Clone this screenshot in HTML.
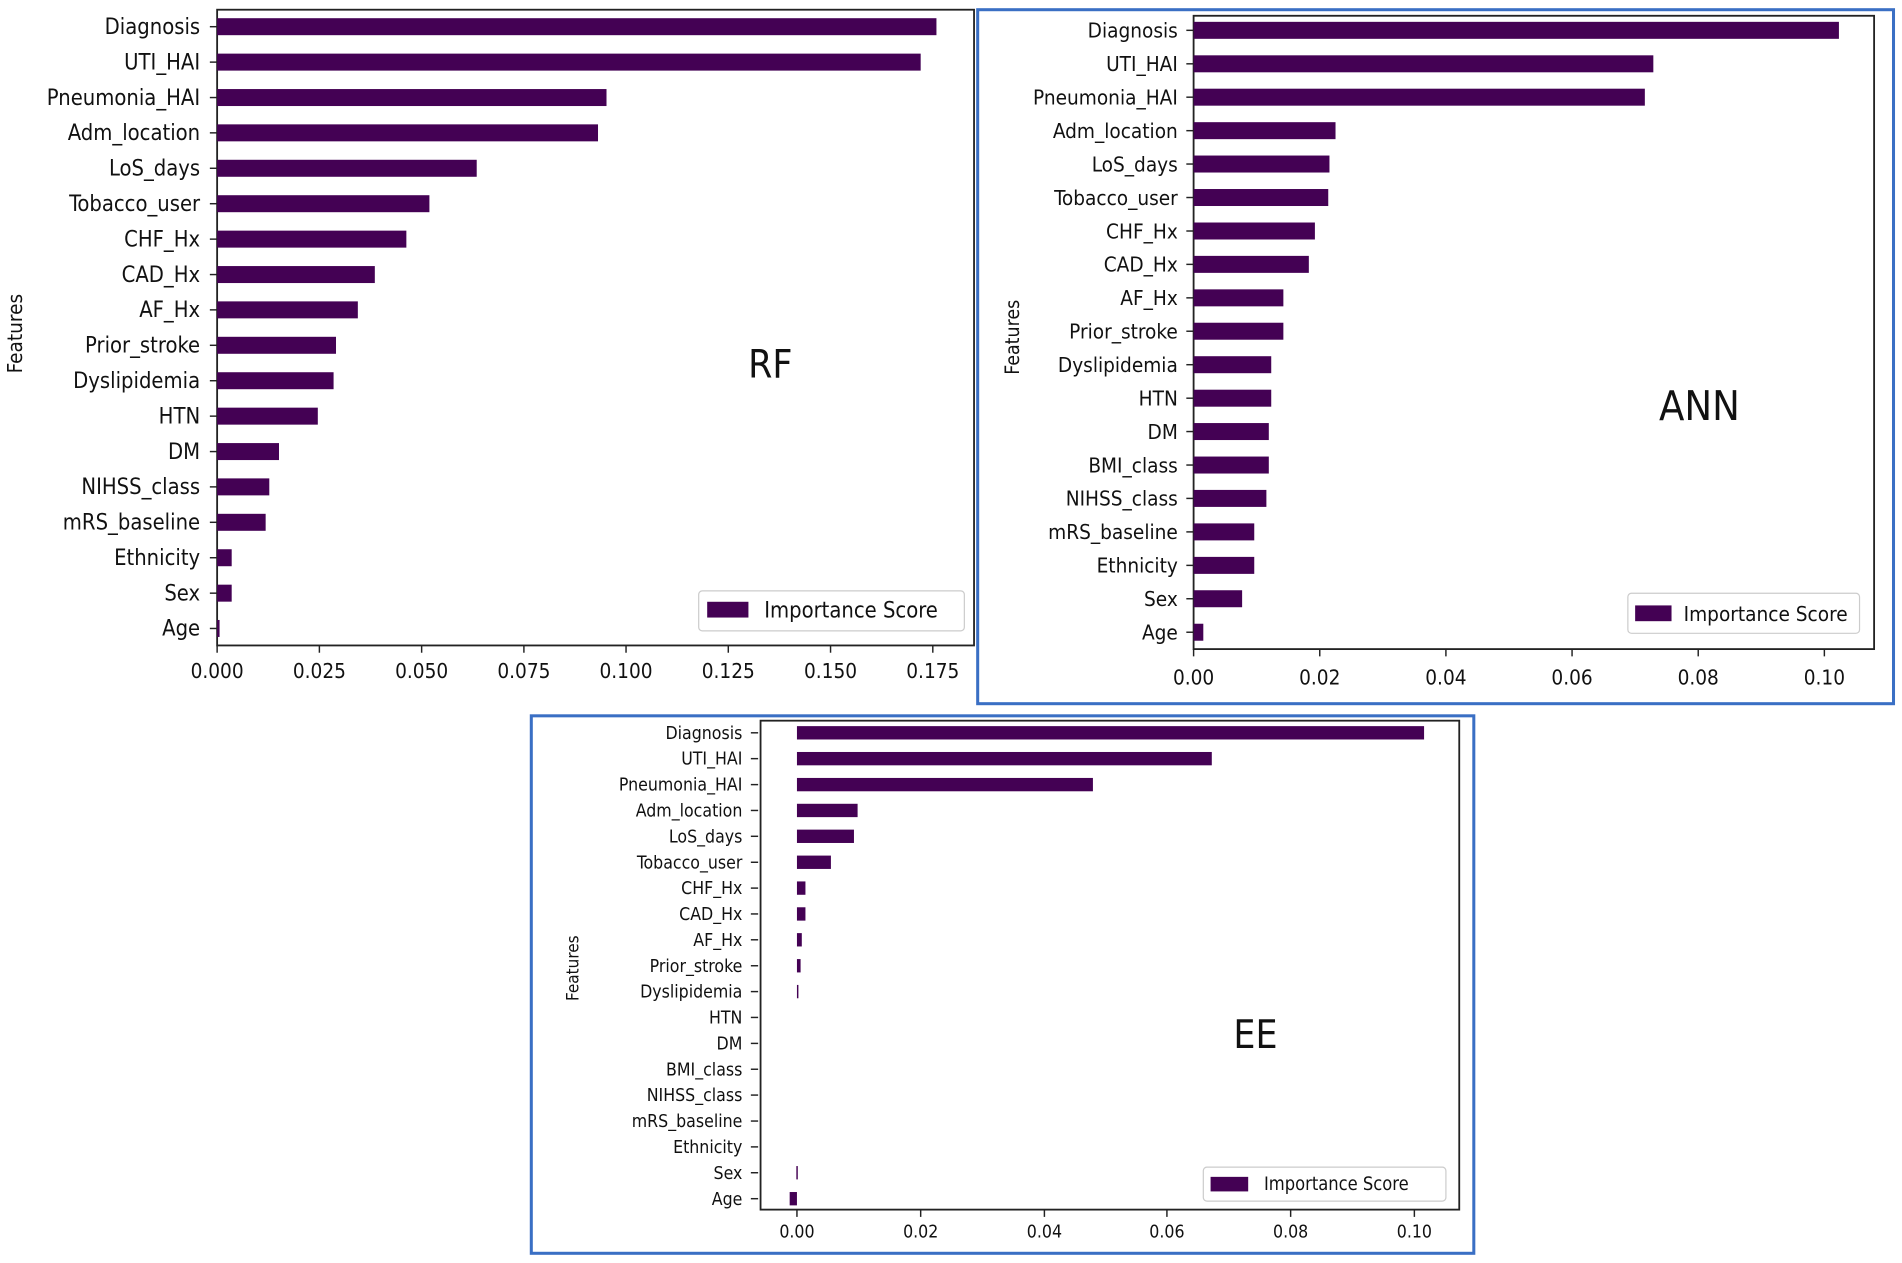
<!DOCTYPE html>
<html><head><meta charset="utf-8"><style>
html,body{margin:0;padding:0;background:#fff;}
svg{display:block;}
text{font-family:"DejaVu Sans Condensed","DejaVu Sans","Liberation Sans",sans-serif;fill:#111;}
</style></head><body>
<svg width="1902" height="1263" viewBox="0 0 1568 1041" preserveAspectRatio="none" xmlns="http://www.w3.org/2000/svg">
<rect width="1568" height="1041" fill="#fff"/>
<!-- RF -->
<g>
<rect x="179" y="8" width="624" height="524" fill="none" stroke="#222" stroke-width="1.5"/>
<g fill="#440154">
<rect x="179" y="15" width="593" height="14"/>
<rect x="179" y="44.2" width="580" height="14"/>
<rect x="179" y="73.4" width="321" height="14"/>
<rect x="179" y="102.5" width="314" height="14"/>
<rect x="179" y="131.7" width="214" height="14"/>
<rect x="179" y="160.9" width="175" height="14"/>
<rect x="179" y="190.1" width="156" height="14"/>
<rect x="179" y="219.3" width="130" height="14"/>
<rect x="179" y="248.4" width="116" height="14"/>
<rect x="179" y="277.6" width="98" height="14"/>
<rect x="179" y="306.8" width="96" height="14"/>
<rect x="179" y="336" width="83" height="14"/>
<rect x="179" y="365.2" width="51" height="14"/>
<rect x="179" y="394.3" width="43" height="14"/>
<rect x="179" y="423.5" width="40" height="14"/>
<rect x="179" y="452.7" width="12" height="14"/>
<rect x="179" y="481.9" width="12" height="14"/>
<rect x="179" y="511" width="2" height="14"/>
</g>
<g font-size="18" text-anchor="end">
<text x="165" y="28">Diagnosis</text><text x="165" y="57.2">UTI_HAI</text><text x="165" y="86.4">Pneumonia_HAI</text><text x="165" y="115.5">Adm_location</text><text x="165" y="144.7">LoS_days</text><text x="165" y="173.9">Tobacco_user</text><text x="165" y="203.1">CHF_Hx</text><text x="165" y="232.3">CAD_Hx</text><text x="165" y="261.4">AF_Hx</text><text x="165" y="290.6">Prior_stroke</text><text x="165" y="319.8">Dyslipidemia</text><text x="165" y="349">HTN</text><text x="165" y="378.2">DM</text><text x="165" y="407.3">NIHSS_class</text><text x="165" y="436.5">mRS_baseline</text><text x="165" y="465.7">Ethnicity</text><text x="165" y="494.9">Sex</text><text x="165" y="524">Age</text>
</g>
<g stroke="#222" stroke-width="1.2">
<line x1="173" y1="22" x2="179" y2="22"/><line x1="173" y1="51.2" x2="179" y2="51.2"/><line x1="173" y1="80.4" x2="179" y2="80.4"/><line x1="173" y1="109.5" x2="179" y2="109.5"/><line x1="173" y1="138.7" x2="179" y2="138.7"/><line x1="173" y1="167.9" x2="179" y2="167.9"/><line x1="173" y1="197.1" x2="179" y2="197.1"/><line x1="173" y1="226.3" x2="179" y2="226.3"/><line x1="173" y1="255.4" x2="179" y2="255.4"/><line x1="173" y1="284.6" x2="179" y2="284.6"/><line x1="173" y1="313.8" x2="179" y2="313.8"/><line x1="173" y1="343" x2="179" y2="343"/><line x1="173" y1="372.2" x2="179" y2="372.2"/><line x1="173" y1="401.3" x2="179" y2="401.3"/><line x1="173" y1="430.5" x2="179" y2="430.5"/><line x1="173" y1="459.7" x2="179" y2="459.7"/><line x1="173" y1="488.9" x2="179" y2="488.9"/><line x1="173" y1="518" x2="179" y2="518"/>
<line x1="179" y1="532" x2="179" y2="538"/><line x1="263.3" y1="532" x2="263.3" y2="538"/><line x1="347.6" y1="532" x2="347.6" y2="538"/><line x1="431.9" y1="532" x2="431.9" y2="538"/><line x1="516.1" y1="532" x2="516.1" y2="538"/><line x1="600.4" y1="532" x2="600.4" y2="538"/><line x1="684.7" y1="532" x2="684.7" y2="538"/><line x1="769" y1="532" x2="769" y2="538"/>
</g>
<g font-size="17" text-anchor="middle">
<text x="179" y="559">0.000</text><text x="263.3" y="559">0.025</text><text x="347.6" y="559">0.050</text><text x="431.9" y="559">0.075</text><text x="516.1" y="559">0.100</text><text x="600.4" y="559">0.125</text><text x="684.7" y="559">0.150</text><text x="769" y="559">0.175</text>
</g>
<text x="18" y="275" font-size="17" text-anchor="middle" transform="rotate(-90 18 275)">Features</text>
<text x="635" y="311" font-size="32" text-anchor="middle">RF</text>
<rect x="576" y="487" width="219" height="33" rx="3" fill="#fff" stroke="#ccc"/>
<rect x="583" y="496" width="34" height="13" fill="#440154"/>
<text x="630" y="509" font-size="18">Importance Score</text>
</g>
<!-- ANN -->
<g>
<rect x="806" y="8" width="755" height="572" fill="none" stroke="#3a6fc4" stroke-width="2.5"/>
<rect x="984" y="13" width="561" height="522" fill="none" stroke="#222" stroke-width="1.5"/>
<g fill="#440154">
<rect x="984" y="18" width="532" height="14"/><rect x="984" y="45.6" width="379" height="14"/><rect x="984" y="73.1" width="372" height="14"/><rect x="984" y="100.7" width="117" height="14"/><rect x="984" y="128.2" width="112" height="14"/><rect x="984" y="155.8" width="111" height="14"/><rect x="984" y="183.4" width="100" height="14"/><rect x="984" y="210.9" width="95" height="14"/><rect x="984" y="238.5" width="74" height="14"/><rect x="984" y="266" width="74" height="14"/><rect x="984" y="293.6" width="64" height="14"/><rect x="984" y="321.2" width="64" height="14"/><rect x="984" y="348.7" width="62" height="14"/><rect x="984" y="376.3" width="62" height="14"/><rect x="984" y="403.8" width="60" height="14"/><rect x="984" y="431.4" width="50" height="14"/><rect x="984" y="459" width="50" height="14"/><rect x="984" y="486.5" width="40" height="14"/><rect x="984" y="514.1" width="8" height="14"/>
</g>
<g font-size="17" text-anchor="end">
<text x="971" y="31">Diagnosis</text><text x="971" y="58.6">UTI_HAI</text><text x="971" y="86.1">Pneumonia_HAI</text><text x="971" y="113.7">Adm_location</text><text x="971" y="141.2">LoS_days</text><text x="971" y="168.8">Tobacco_user</text><text x="971" y="196.4">CHF_Hx</text><text x="971" y="223.9">CAD_Hx</text><text x="971" y="251.5">AF_Hx</text><text x="971" y="279">Prior_stroke</text><text x="971" y="306.6">Dyslipidemia</text><text x="971" y="334.2">HTN</text><text x="971" y="361.7">DM</text><text x="971" y="389.3">BMI_class</text><text x="971" y="416.8">NIHSS_class</text><text x="971" y="444.4">mRS_baseline</text><text x="971" y="472">Ethnicity</text><text x="971" y="499.5">Sex</text><text x="971" y="527.1">Age</text>
</g>
<g stroke="#222" stroke-width="1.2">
<line x1="978" y1="25" x2="984" y2="25"/><line x1="978" y1="52.6" x2="984" y2="52.6"/><line x1="978" y1="80.1" x2="984" y2="80.1"/><line x1="978" y1="107.7" x2="984" y2="107.7"/><line x1="978" y1="135.2" x2="984" y2="135.2"/><line x1="978" y1="162.8" x2="984" y2="162.8"/><line x1="978" y1="190.4" x2="984" y2="190.4"/><line x1="978" y1="217.9" x2="984" y2="217.9"/><line x1="978" y1="245.5" x2="984" y2="245.5"/><line x1="978" y1="273" x2="984" y2="273"/><line x1="978" y1="300.6" x2="984" y2="300.6"/><line x1="978" y1="328.2" x2="984" y2="328.2"/><line x1="978" y1="355.7" x2="984" y2="355.7"/><line x1="978" y1="383.3" x2="984" y2="383.3"/><line x1="978" y1="410.8" x2="984" y2="410.8"/><line x1="978" y1="438.4" x2="984" y2="438.4"/><line x1="978" y1="466" x2="984" y2="466"/><line x1="978" y1="493.5" x2="984" y2="493.5"/><line x1="978" y1="521.1" x2="984" y2="521.1"/>
<line x1="984" y1="535" x2="984" y2="541"/><line x1="1088" y1="535" x2="1088" y2="541"/><line x1="1192" y1="535" x2="1192" y2="541"/><line x1="1296" y1="535" x2="1296" y2="541"/><line x1="1400" y1="535" x2="1400" y2="541"/><line x1="1504" y1="535" x2="1504" y2="541"/>
</g>
<g font-size="17" text-anchor="middle">
<text x="984" y="564">0.00</text><text x="1088" y="564">0.02</text><text x="1192" y="564">0.04</text><text x="1296" y="564">0.06</text><text x="1400" y="564">0.08</text><text x="1504" y="564">0.10</text>
</g>
<text x="840" y="278" font-size="16" text-anchor="middle" transform="rotate(-90 840 278)">Features</text>
<text x="1401" y="346" font-size="34" text-anchor="middle">ANN</text>
<rect x="1342" y="489" width="191" height="33" rx="3" fill="#fff" stroke="#ccc"/>
<rect x="1348" y="499" width="30" height="13" fill="#440154"/>
<text x="1388" y="512" font-size="17">Importance Score</text>
</g>
<!-- EE -->
<g>
<rect x="438" y="590" width="777" height="443" fill="none" stroke="#3a6fc4" stroke-width="2.5"/>
<rect x="627" y="594" width="576" height="403" fill="none" stroke="#222" stroke-width="1.5"/>
<g fill="#440154">
<rect x="657" y="598.5" width="517" height="11"/><rect x="657" y="619.8" width="342" height="11"/><rect x="657" y="641.2" width="244" height="11"/><rect x="657" y="662.5" width="50" height="11"/><rect x="657" y="683.8" width="47" height="11"/><rect x="657" y="705.2" width="28" height="11"/><rect x="657" y="726.5" width="7" height="11"/><rect x="657" y="747.8" width="7" height="11"/><rect x="657" y="769.1" width="4" height="11"/><rect x="657" y="790.5" width="3" height="11"/><rect x="657" y="811.8" width="1.2" height="11"/><rect x="656.5" y="961.1" width="1.2" height="11"/><rect x="651" y="982.5" width="6" height="11"/>
</g>
<g font-size="14.5" text-anchor="end">
<text x="612" y="609">Diagnosis</text><text x="612" y="630.3">UTI_HAI</text><text x="612" y="651.7">Pneumonia_HAI</text><text x="612" y="673">Adm_location</text><text x="612" y="694.3">LoS_days</text><text x="612" y="715.7">Tobacco_user</text><text x="612" y="737">CHF_Hx</text><text x="612" y="758.3">CAD_Hx</text><text x="612" y="779.6">AF_Hx</text><text x="612" y="801">Prior_stroke</text><text x="612" y="822.3">Dyslipidemia</text><text x="612" y="843.6">HTN</text><text x="612" y="865">DM</text><text x="612" y="886.3">BMI_class</text><text x="612" y="907.6">NIHSS_class</text><text x="612" y="929">mRS_baseline</text><text x="612" y="950.3">Ethnicity</text><text x="612" y="971.6">Sex</text><text x="612" y="993">Age</text>
</g>
<g stroke="#222" stroke-width="1.2">
<line x1="619" y1="604" x2="625" y2="604"/><line x1="619" y1="625.3" x2="625" y2="625.3"/><line x1="619" y1="646.7" x2="625" y2="646.7"/><line x1="619" y1="668" x2="625" y2="668"/><line x1="619" y1="689.3" x2="625" y2="689.3"/><line x1="619" y1="710.7" x2="625" y2="710.7"/><line x1="619" y1="732" x2="625" y2="732"/><line x1="619" y1="753.3" x2="625" y2="753.3"/><line x1="619" y1="774.6" x2="625" y2="774.6"/><line x1="619" y1="796" x2="625" y2="796"/><line x1="619" y1="817.3" x2="625" y2="817.3"/><line x1="619" y1="838.6" x2="625" y2="838.6"/><line x1="619" y1="860" x2="625" y2="860"/><line x1="619" y1="881.3" x2="625" y2="881.3"/><line x1="619" y1="902.6" x2="625" y2="902.6"/><line x1="619" y1="924" x2="625" y2="924"/><line x1="619" y1="945.3" x2="625" y2="945.3"/><line x1="619" y1="966.6" x2="625" y2="966.6"/><line x1="619" y1="988" x2="625" y2="988"/>
<line x1="657" y1="997" x2="657" y2="1003"/><line x1="759" y1="997" x2="759" y2="1003"/><line x1="861" y1="997" x2="861" y2="1003"/><line x1="962" y1="997" x2="962" y2="1003"/><line x1="1064" y1="997" x2="1064" y2="1003"/><line x1="1166" y1="997" x2="1166" y2="1003"/>
</g>
<g font-size="14.5" text-anchor="middle">
<text x="657" y="1020">0.00</text><text x="759" y="1020">0.02</text><text x="861" y="1020">0.04</text><text x="962" y="1020">0.06</text><text x="1064" y="1020">0.08</text><text x="1166" y="1020">0.10</text>
</g>
<text x="477" y="798" font-size="14" text-anchor="middle" transform="rotate(-90 477 798)">Features</text>
<text x="1035" y="864" font-size="32" text-anchor="middle">EE</text>
<rect x="992" y="962" width="200" height="28" rx="3" fill="#fff" stroke="#ccc"/>
<rect x="998" y="970" width="31" height="12" fill="#440154"/>
<text x="1042" y="981" font-size="15">Importance Score</text>
</g>
</svg>
</body></html>
